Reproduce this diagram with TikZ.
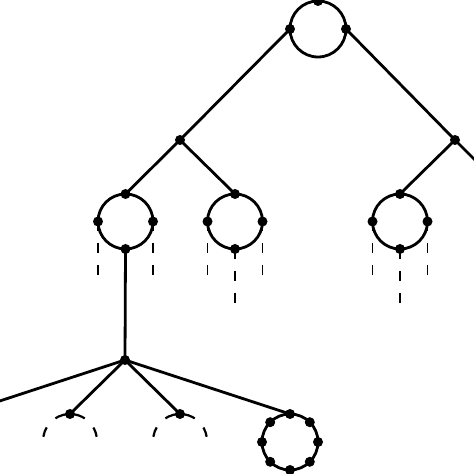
\documentclass[tikz,border=0pt]{standalone}
\usepackage{tikz}

\begin{document}
\begin{tikzpicture}[x=1pt,y=1pt]
	\tikzset{loopc/.style={draw,circle,line width=2.8pt,inner sep=0pt,outer sep=0pt,minimum size=55pt},
		edge/.style={line width=2.8pt,line join=round},
		ghost/.style={line width=1.8pt,dash pattern=on 10pt off 12pt},
		ghostarc/.style={line width=2.2pt,dash pattern=on 10pt off 12.7pt on 31pt off 12.7pt on 10pt}}
	
	% Picture frame
	\useasboundingbox (0,0) rectangle (474,474);
	\clip (0,0) rectangle (474,474);
	
	% Set the dot radius and the arc radius
	\def\dotr{5pt}
	\def\arcr{27}
	
	% Loops and branch points
	\node[loopc,minimum size=56pt] (top) at (318,445) {};
	\coordinate (a) at (180,334);
	\coordinate (b) at (455,334);
	\node[loopc] (l1) at (125.5,252.5) {};
	\node[loopc] (l2) at (235,252.5) {};
	\node[loopc] (r1) at (400,252.5) {};
	\coordinate (c) at (125,114);
	\coordinate (d1) at (70,60);
	\coordinate (d2) at (180,60);
	\node[loopc,minimum size=56pt] (oct) at (290,32) {};
	
	% Lines running off the picture
	\coordinate (offl) at (-40,60);
	\coordinate (offr) at (510,279);
	
	% Solid lines
	\draw[edge] (top.west) -- (a) -- (l1.north);
	\draw[edge] (a) -- (l2.north);
	\draw[edge] (top.east) -- (b) -- (r1.north);
	\draw[edge] (b) -- (offr);
	\draw[edge] (l1.south) -- (c);
	\draw[edge] (c) -- (offl);
	\draw[edge] (c) -- (d1);
	\draw[edge] (c) -- (d2);
	\draw[edge] (c) -- (oct.north);
	
	% Dashed legs under the loops
	\foreach \n in {l1,l2,r1}
	{
		\draw[ghost] (\n.west) -- ++(0,-55);
		\draw[ghost] (\n.east) -- ++(0,-55);
	}
	\draw[ghost] (l2.south) -- ++(0,-55);
	\draw[ghost] (r1.south) -- ++(0,-55);
	
	% Dashed arcs
	\foreach \n in {d1,d2}
	{
		\draw[ghostarc] (\n) ++(0,-\arcr) ++(171:\arcr) arc (171:9:\arcr);
	}
	
	% Dots
	\foreach \p in {top.north,top.west,top.east,a,b,c,d1,d2}
	{
		\fill (\p) circle (\dotr);
	}
	\foreach \n in {l1,l2,r1}
	{
		\foreach \s in {north,west,east,south}
			\fill (\n.\s) circle (\dotr);
	}
	\foreach \ang in {0,45,...,315}
	{
		\fill (oct.\ang) circle (\dotr);
	}
	
\end{tikzpicture}
\end{document}
